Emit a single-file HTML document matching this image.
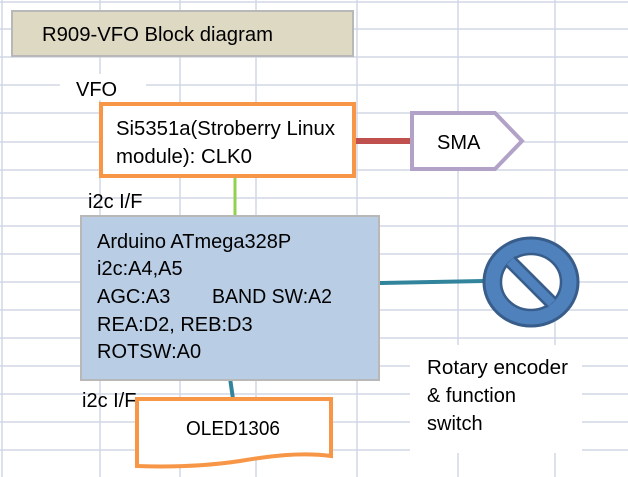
<!DOCTYPE html>
<html><head><meta charset="utf-8"><style>
html,body{margin:0;padding:0;background:#fff;}
svg{display:block;}
text{font-family:"Liberation Sans",sans-serif;font-size:20px;fill:#000;}
</style></head><body>
<svg width="628" height="477" viewBox="0 0 628 477" xmlns="http://www.w3.org/2000/svg">
<g stroke="#d0d7e5" stroke-width="1.5">
<line x1="2" y1="0" x2="2" y2="477"/><line x1="100" y1="0" x2="100" y2="477"/><line x1="180" y1="0" x2="180" y2="477"/><line x1="256" y1="0" x2="256" y2="477"/><line x1="357" y1="0" x2="357" y2="477"/><line x1="458" y1="0" x2="458" y2="477"/><line x1="555" y1="0" x2="555" y2="477"/>
<line x1="0" y1="2" x2="628" y2="2"/><line x1="0" y1="29" x2="628" y2="29"/><line x1="0" y1="57" x2="628" y2="57"/><line x1="0" y1="85" x2="628" y2="85"/><line x1="0" y1="113" x2="628" y2="113"/><line x1="0" y1="142" x2="628" y2="142"/><line x1="0" y1="170" x2="628" y2="170"/><line x1="0" y1="198" x2="628" y2="198"/><line x1="0" y1="226" x2="628" y2="226"/><line x1="0" y1="254" x2="628" y2="254"/><line x1="0" y1="282" x2="628" y2="282"/><line x1="0" y1="310" x2="628" y2="310"/><line x1="0" y1="338" x2="628" y2="338"/><line x1="0" y1="366" x2="628" y2="366"/><line x1="0" y1="394" x2="628" y2="394"/><line x1="0" y1="422" x2="628" y2="422"/><line x1="0" y1="450" x2="628" y2="450"/>
</g>
<rect x="12" y="11" width="341" height="45" fill="#ddd9c3" stroke="#b8b8b8" stroke-width="2"/>
<text x="42" y="41" textLength="231" lengthAdjust="spacingAndGlyphs">R909-VFO  Block diagram</text>
<rect x="60" y="74" width="86" height="26" fill="#fff"/>
<text x="76" y="96">VFO</text>
<line x1="353" y1="141" x2="411" y2="141" stroke="#c0504d" stroke-width="6"/>
<line x1="235" y1="177" x2="235" y2="216" stroke="#92d050" stroke-width="3"/>
<rect x="101" y="104" width="253" height="72" fill="#fff" stroke="#f79646" stroke-width="4"/>
<text x="116" y="135" textLength="219" lengthAdjust="spacingAndGlyphs">Si5351a(Stroberry Linux</text>
<text x="116" y="163" textLength="136" lengthAdjust="spacingAndGlyphs">module): CLK0</text>
<path d="M412 113 H495 L522 141 L495 169 H412 Z" fill="#fff" stroke="#b3a2c7" stroke-width="4"/>
<text x="437" y="149">SMA</text>
<text x="88" y="208">i2c I/F</text>
<line x1="379" y1="283" x2="484" y2="281" stroke="#31849b" stroke-width="4"/>
<line x1="230" y1="378" x2="233" y2="399" stroke="#31849b" stroke-width="4"/>
<rect x="81" y="216" width="298" height="164" fill="#b9cde5" stroke="#b8b8b8" stroke-width="2"/>
<text x="97" y="248">Arduino  ATmega328P</text>
<text x="97" y="275">i2c:A4,A5</text>
<text x="97" y="303">AGC:A3</text>
<text x="212" y="303" textLength="120" lengthAdjust="spacingAndGlyphs">BAND SW:A2</text>
<text x="97" y="331">REA:D2, REB:D3</text>
<text x="97" y="358">ROTSW:A0</text>
<ellipse cx="531" cy="282" rx="47" ry="44" fill="#4f81bd" stroke="#385d8a" stroke-width="3"/>
<ellipse cx="531" cy="282" rx="30" ry="28" fill="#fff" stroke="#385d8a" stroke-width="2.5"/>
<line x1="510" y1="261" x2="552" y2="303" stroke="#385d8a" stroke-width="14"/>
<line x1="510" y1="261" x2="552" y2="303" stroke="#4f81bd" stroke-width="9"/>
<rect x="410" y="345" width="172" height="108" fill="#fff"/>
<text x="427" y="374" textLength="141" lengthAdjust="spacingAndGlyphs">Rotary encoder</text>
<text x="427" y="402">&amp; function</text>
<text x="427" y="430">switch</text>
<text x="82" y="407">i2c I/F</text>
<path d="M137 399 H331 V456 C300 452 270 456 240 461 C200 467 165 467 137 466 Z" fill="#fff" stroke="#f79646" stroke-width="4"/>
<text x="186" y="435" textLength="94" lengthAdjust="spacingAndGlyphs">OLED1306</text>
</svg>
</body></html>
